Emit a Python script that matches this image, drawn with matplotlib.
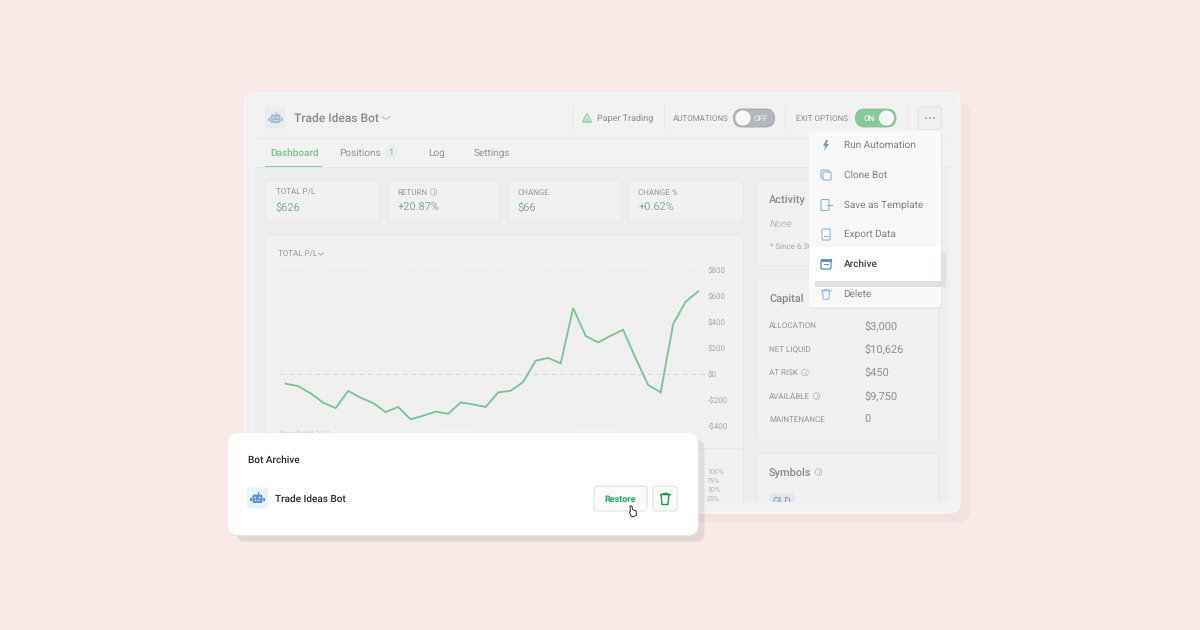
import matplotlib
matplotlib.use("Agg")
import matplotlib.pyplot as plt
from matplotlib.patches import FancyBboxPatch, Rectangle, Circle, Polygon
from matplotlib.lines import Line2D

plt.rcParams['font.family'] = ['Roboto', 'DejaVu Sans']
plt.rcParams['text.hinting'] = 'no_hinting'
plt.rcParams['text.hinting_factor'] = 1

# ---- data ----
pl_values = [-77, -95, -151, -223, -264, -133, -185, -226, -295, -256, -351, -323, -292, -308,
             -221, -236, -256, -144, -131, -64, 100, 121, 79, 505, 290, 241, 292, 338, 118,
             -87, -144, 382, 554, 633]
y_ticks = [800, 600, 400, 200, 0, -200, -400]
y_tick_labels = ['$800', '$600', '$400', '$200', '$0', '-$200', '-$400']
tabs = ['Dashboard', 'Positions', 'Log', 'Settings']
stat_labels = ['TOTAL P/L', 'RETURN', 'CHANGE', 'CHANGE %']
stat_values = ['$626', '+20.87%', '$66', '+0.62%']
menu_items = ['Run Automation', 'Clone Bot', 'Save as Template', 'Export Data', 'Archive', 'Delete']
capital_labels = ['ALLOCATION', 'NET LIQUID', 'AT RISK', 'AVAILABLE', 'MAINTENANCE']
capital_values = ['$3,000', '$10,626', '$450', '$9,750', '0']
pct_labels = ['100%', '75%', '50%', '25%']

# ---- colours ----
BG = '#F8E9E6'
PANEL = '#F1F1F2'
CONTENT = '#ECEDEF'
CARD = '#F0F0F1'
EDGE = '#E6E7E9'
GREY = '#8C8C8C'
GREENTXT = '#7FB08E'
BLUE = '#8FB2DA'

fig = plt.figure(figsize=(12, 6.3), dpi=100, facecolor=BG)


def layer(z):
    a = fig.add_axes([0, 0, 1, 1], zorder=z)
    a.set_xlim(0, 1200)
    a.set_ylim(630, 0)
    a.axis('off')
    a.patch.set_alpha(0)
    return a


base = layer(1)
top = layer(5)


def rrect(a, x0, y0, x1, y1, r=3, fc='white', ec='none', lw=0.7, z=2, alpha=None):
    p = FancyBboxPatch((x0 + r, y0 + r), x1 - x0 - 2 * r, y1 - y0 - 2 * r,
                       boxstyle=f"round,pad={r},rounding_size={r}",
                       fc=fc, ec=ec, lw=lw, zorder=z, alpha=alpha)
    a.add_patch(p)
    return p


def txt(a, x, y, s, size=8, color=GREY, weight='normal', ha='left', z=6, **kw):
    # y is the middle of the capital letters, so every label sits on its own baseline
    a.text(x, y + 0.355 * size * 100 / 72, s, fontsize=size, color=color, fontweight=weight,
           ha=ha, va='baseline', zorder=z, **kw)


def line(a, xs, ys, color, lw=0.8, z=3, **kw):
    a.add_line(Line2D(xs, ys, color=color, lw=lw, zorder=z, solid_capstyle='round', **kw))


def info(a, x, y, color='#B5B5B5', r=3.3):
    a.add_patch(Circle((x, y), r, fc='none', ec=color, lw=0.55, zorder=5))
    line(a, [x, x], [y - 0.4, y + 1.6], color, 0.6, 5)
    line(a, [x, x], [y - 1.7, y - 1.5], color, 0.6, 5)


def chevron(a, x, y, color='#A5A5A5', w=3.5, h=2.2):
    line(a, [x - w, x, x + w], [y - h / 2, y + h / 2, y - h / 2], color, 0.7)


def robot(a, cx, cy, color, bg, z=4):
    rrect(a, cx - 10.5, cy - 10.5, cx + 10.5, cy + 10.5, 3, fc=bg, z=z)
    rrect(a, cx - 5, cy - 3.5, cx + 5, cy + 5, 1.6, fc=color, z=z + .1)
    a.add_patch(Rectangle((cx - 7.3, cy - 0.5), 1.8, 3.5, fc=color, zorder=z + .1))
    a.add_patch(Rectangle((cx + 5.5, cy - 0.5), 1.8, 3.5, fc=color, zorder=z + .1))
    line(a, [cx, cx], [cy - 6, cy - 3.5], color, 0.9, z + .1)
    for dx in (-2, 0, 2):
        a.add_patch(Rectangle((cx + dx - .6, cy + 2), 1.2, 1.0, fc=bg, zorder=z + .2))
    for dx in (-2.2, 2.2):
        a.add_patch(Circle((cx + dx, cy - 0.4), 0.9, fc=bg, zorder=z + .2))


def trash(a, cx, cy, color, lw=1.0, z=6, w=4.2, h=6):
    a.add_patch(Polygon([(cx - w, cy - h + 2), (cx - w + 1, cy + h), (cx + w - 1, cy + h), (cx + w, cy - h + 2)],
                        closed=True, fc='none', ec=color, lw=lw, zorder=z))
    line(a, [cx - w - 1, cx + w + 1], [cy - h + 1.6, cy - h + 1.6], color, lw, z)
    line(a, [cx - 2, cx + 2], [cy - h, cy - h], color, lw, z)


# ---- panel ----
rrect(base, 255, 103, 970, 522, 10, fc='#F1E1DF', z=1)
rrect(base, 244, 92, 960.5, 513.5, 11, fc='#FBF7F6', z=1.1)
rrect(base, 245, 93, 959.5, 512, 10, fc=PANEL, z=1.2)
base.add_patch(Rectangle((255, 167), 694, 334.5, fc=CONTENT, zorder=1.3))
line(base, [255, 949], [137.5, 137.5], '#E9E9EA', 0.8, 1.4)
line(base, [255, 949], [167, 167], '#E6E7E9', 0.8, 1.4)

# header
robot(base, 275.5, 118, '#A6BDD8', '#E9ECEF')
txt(base, 294, 118, 'Trade Ideas Bot', 8.4, '#8A8A8A', 'medium')
chevron(base, 386, 118, '#B5B5B5', 4, 2.6)
for xd in (573, 664, 785, 908):
    line(base, [xd, xd], [106, 130], '#E8E8E9', 0.7)
a_c = '#8CCFA2'
base.add_patch(Polygon([(587, 113.5), (591.5, 122), (582.5, 122)], closed=True, fc='none', ec=a_c, lw=0.9, zorder=4))
base.add_patch(Polygon([(587, 118), (589, 122), (585, 122)], closed=True, fc='none', ec=a_c, lw=0.7, zorder=4))
txt(base, 597, 118, 'Paper Trading', 6.7, GREY)
txt(base, 673, 118, 'AUTOMATIONS', 5.8, GREY)
rrect(base, 733.5, 109, 774.5, 127, 9, fc='#B3B6BC', ec='#9EA2A9', lw=0.6, z=3)
base.add_patch(Circle((743, 118), 7.6, fc='#F7F7F7', zorder=4))
txt(base, 761, 118, 'OFF', 5.9, '#E6E7E9', ha='center', weight='medium')
txt(base, 796, 118, 'EXIT OPTIONS', 5.8, GREY)
rrect(base, 855.5, 109, 896, 127, 9, fc='#87C897', ec='#82C492', lw=0.6, z=3)
base.add_patch(Circle((886.5, 118), 7.6, fc='#F7F7F7', zorder=4))
txt(base, 869, 118, 'ON', 5.9, '#EEF6EF', ha='center', weight='medium')
rrect(base, 918, 106.5, 941.5, 129.5, 4, fc='#EFEFF0', ec='#E2E3E5', lw=0.8, z=3)
for dx in (-4, 0, 4):
    base.add_patch(Circle((930 + dx, 118), 1.0, fc='#6FBF8A', zorder=4))

# tabs
tab_x = [270, 339, 428, 474]
for i, (x, t) in enumerate(zip(tab_x, tabs)):
    if i == 0:
        txt(base, x, 152, t, 7.2, '#7CC092', 'medium')
    else:
        txt(base, x, 152, t, 7.2, '#8D949C')
base.add_patch(Rectangle((265, 165.7), 57, 1.6, fc='#85CC9C', zorder=4))
rrect(base, 385, 146, 397, 158, 3, fc='#EAEBEC', z=3)
txt(base, 391, 152, '1', 6.6, '#85C79B', 'medium', ha='center')

# stat cards
card_x = [(265, 380), (387, 501), (507, 622), (628, 744)]
for (x0, x1), lab, val in zip(card_x, stat_labels, stat_values):
    rrect(base, x0 + .5, 180, x1 - .5, 222, 3, fc=CARD, ec=EDGE, lw=0.7)
    txt(base, x0 + 10.5, 192, lab, 6.0, '#969696')
    txt(base, x0 + 10.5, 207, val, 8.2, GREENTXT)
info(base, 433.5, 192)

# chart card
rrect(base, 265.5, 235, 743.5, 505, 3, fc=CARD, ec=EDGE, lw=0.7)
line(base, [266, 743], [447.5, 447.5], '#E6E7E9', 0.7)
txt(base, 278.5, 254, 'TOTAL P/L', 5.8, '#969696')
chevron(base, 321, 254, '#ABABAB', 2.6, 2)
txt(base, 280, 432.5, 'Since Oct 05, 2021', 4.4, '#C8C8C8')
for y, t in zip([471, 480, 489.5, 498.5], pct_labels):
    txt(base, 707, y, t, 5.0, '#B3B3B3')

# right cards
for y0, y1 in [(180, 266), (279, 440), (453, 505)]:
    rrect(base, 756.5, y0, 939, y1, 3, fc=CARD, ec=EDGE, lw=0.7)
txt(base, 769, 199, 'Activity', 8.0, '#8A8A8A', 'medium')
txt(base, 769.5, 223, 'None', 7.2, '#B8B8B8', style='italic')
txt(base, 770, 246, '* Since 6:30', 5.9, '#A5A5A5')
txt(base, 769, 298, 'Capital', 8.0, '#8A8A8A', 'medium')
cap_y = [325.5, 349, 372.5, 396, 419.5]
for y, lab, val in zip(cap_y, capital_labels, capital_values):
    txt(base, 769, y, lab, 5.8, '#969696')
    txt(base, 864, y, val, 7.8, '#8F8F8F')
info(base, 805, 372.5)
info(base, 816.5, 396)
txt(base, 769, 472, 'Symbols', 8.0, '#8A8A8A', 'medium')
info(base, 818.5, 472)
rrect(base, 769, 493, 795, 505, 4, fc='#E2E7EE', z=3)
txt(base, 782, 500.5, 'GLD', 7.2, '#90A4BC', 'medium', ha='center', z=3.5)
# footer strip hides the cards below the scrolling area
base.add_patch(Rectangle((255, 501.5), 694, 10.5, fc=PANEL, zorder=4.5))

# ---- chart ----
x0_px, x1_px, y0_px, y1_px = 280, 705, 269.7, 425.7
ax = fig.add_axes([x0_px / 1200, 1 - y1_px / 630, (x1_px - x0_px) / 1200, (y1_px - y0_px) / 630], zorder=3)
ax.set_facecolor('#EFEFF0')
ax.set_ylim(-400, 800)
ax.set_xlim(-5.67 / 12.5, -5.67 / 12.5 + (x1_px - x0_px) / 12.5)
ax.plot(range(len(pl_values)), pl_values, color='#7CC594', lw=1.35, solid_joinstyle='miter', zorder=3, clip_on=False)
for sp in ax.spines.values():
    sp.set_visible(False)
ax.set_xticks([])
ax.set_yticks(y_ticks)
ax.set_yticklabels(y_tick_labels, fontsize=5.8, color='#A8A8A8')
ax.yaxis.tick_right()
ax.tick_params(axis='y', length=0, pad=2.2)
for t in y_ticks:
    if t == 0:
        ax.axhline(t, color='#D6D6D8', lw=0.7, ls=(0, (5, 4)), zorder=1, clip_on=False)
    else:
        ax.axhline(t, color='#E0E0E2', lw=0.7, ls=(0, (1, 3)), zorder=1, clip_on=False)

# ---- dropdown menu ----
rrect(top, 809.5, 132.5, 942, 309, 2, fc='#E3E4E7', z=1)
rrect(top, 809, 131, 941, 307.5, 2, fc='#F8F8F8', z=2)
top.add_patch(Rectangle((815, 253), 131, 33.5, fc='#DFE0E4', zorder=2.5))
top.add_patch(Rectangle((809, 247), 132, 33.5, fc='#FFFFFF', zorder=3))
menu_y = [145, 174.5, 204.5, 234, 264, 293.5]
for i, (y, m) in enumerate(zip(menu_y, menu_items)):
    txt(top, 843.5, y, m, 6.9, '#3F4347' if i == 4 else '#7E7E7E', 'medium' if i == 4 else 'normal')
ic = BLUE
top.add_patch(Polygon([(826, 140), (823, 146), (825.3, 146), (824, 151), (829, 144), (826.6, 144), (828, 140)],
                      closed=True, fc='#6F9BCF', zorder=5))
rrect(top, 821, 170, 829, 178, 1, fc='none', ec=ic, lw=0.8, z=5)
rrect(top, 823, 172, 831, 180, 1, fc='#F8F8F8', ec=ic, lw=0.8, z=5.1)
rrect(top, 821, 199.5, 829, 210.5, 1, fc='none', ec=ic, lw=0.8, z=5)
line(top, [827, 832], [205, 205], ic, 0.9, 5.2)
rrect(top, 822, 229, 830, 240, 1, fc='none', ec=ic, lw=0.8, z=5)
line(top, [824, 828], [236, 236], ic, 0.8, 5.2)
rrect(top, 821, 260, 831, 269, 1, fc='none', ec='#5E8FCB', lw=0.9, z=5)
top.add_patch(Rectangle((820.5, 258.5), 11, 3, fc='#5E8FCB', zorder=5))
line(top, [824, 828], [264, 264], '#5E8FCB', 0.8, 5.2)
trash(top, 826, 294, '#9DBDE0', 0.8, 5, 3.6, 5.2)

# ---- archive popup ----
rrect(top, 237, 440, 704.5, 541.5, 8, fc='black', z=7, alpha=0.08)
rrect(top, 228, 433, 698.5, 536, 10, fc='#E6E7EC', z=7.5)
rrect(top, 228, 433, 698, 535, 10, fc='#FFFFFF', z=8)
txt(top, 247.5, 459.5, 'Bot Archive', 7.5, '#26282B', 'medium', z=9)
robot(top, 257.5, 498, '#5E92D4', '#EAF2FB', z=9)
txt(top, 275, 498, 'Trade Ideas Bot', 7.4, '#26282B', 'medium', z=9)
rrect(top, 594, 486, 647, 511, 4, fc='#FAFCFA', ec='#E3E7E4', lw=0.9, z=9)
txt(top, 620.5, 498.5, 'Restore', 6.5, '#1FA951', 'bold', ha='center', z=10)
rrect(top, 653, 486, 677, 511, 4, fc='#FAFCFA', ec='#E3E7E4', lw=0.9, z=9)
trash(top, 665, 498.5, '#1B9A4A', 1.0, 10, 4.0, 6)
# hand cursor
top.add_patch(Polygon([(630, 506), (632, 506), (632.5, 509.5), (636, 511), (636.5, 515), (633, 517), (631, 516), (629.5, 512), (630.5, 511)],
                      closed=True, fc='white', ec='#333333', lw=0.7, zorder=11))

fig.savefig('out.png', dpi=100, facecolor=BG)
